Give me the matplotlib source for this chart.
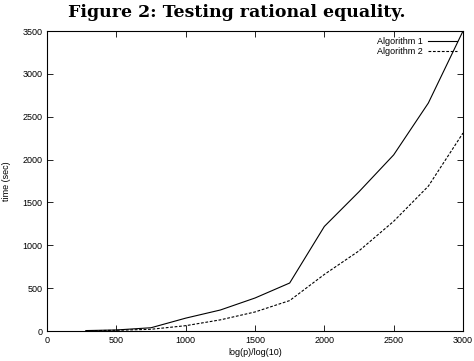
import matplotlib
matplotlib.use("Agg")
import matplotlib.pyplot as plt

# digits (log(p)/log(10)) and timings
x = [280, 500, 750, 1000, 1250, 1500, 1750, 2000, 2250, 2500, 2750, 3000]
alg1 = [5, 12, 38, 150, 245, 385, 560, 1220, 1625, 2055, 2660, 3500]
alg2 = [3, 8, 20, 62, 130, 222, 355, 660, 935, 1280, 1690, 2310]

plt.rcParams['font.family'] = ['Liberation Sans', 'DejaVu Sans']

fig = plt.figure(figsize=(4.74, 3.61), dpi=100)
ax = fig.add_axes([0.0992, 0.0831, 0.8776, 0.8309])

ax.plot(x, alg1, color='black', lw=0.8, label='Algorithm 1')
ax.plot(x, alg2, color='black', lw=0.8, dashes=(2.5, 1.5), label='Algorithm 2')

ax.set_xlim(0, 3000)
ax.set_ylim(0, 3500)
ax.set_xticks(range(0, 3001, 500))
ax.set_yticks(range(0, 3501, 500))
ax.tick_params(direction='in', top=True, right=True, labelsize=6.5, length=4, width=0.6)
for s in ax.spines.values():
    s.set_linewidth(0.8)

ax.set_xlabel('log(p)/log(10)', fontsize=6.5, labelpad=2)
ax.set_ylabel('time (sec)', fontsize=6.5, labelpad=8)

leg = ax.legend(loc='upper right', frameon=False, markerfirst=False, fontsize=6.5,
                handlelength=3.2, handletextpad=0.6, labelspacing=0.1, borderaxespad=0.3)

fig.text(0.5, 0.965, 'Figure 2: Testing rational equality.', ha='center', va='center',
         fontsize=12.5, fontweight='bold', family=['DejaVu Serif'])

fig.savefig('out.png', dpi=100)
